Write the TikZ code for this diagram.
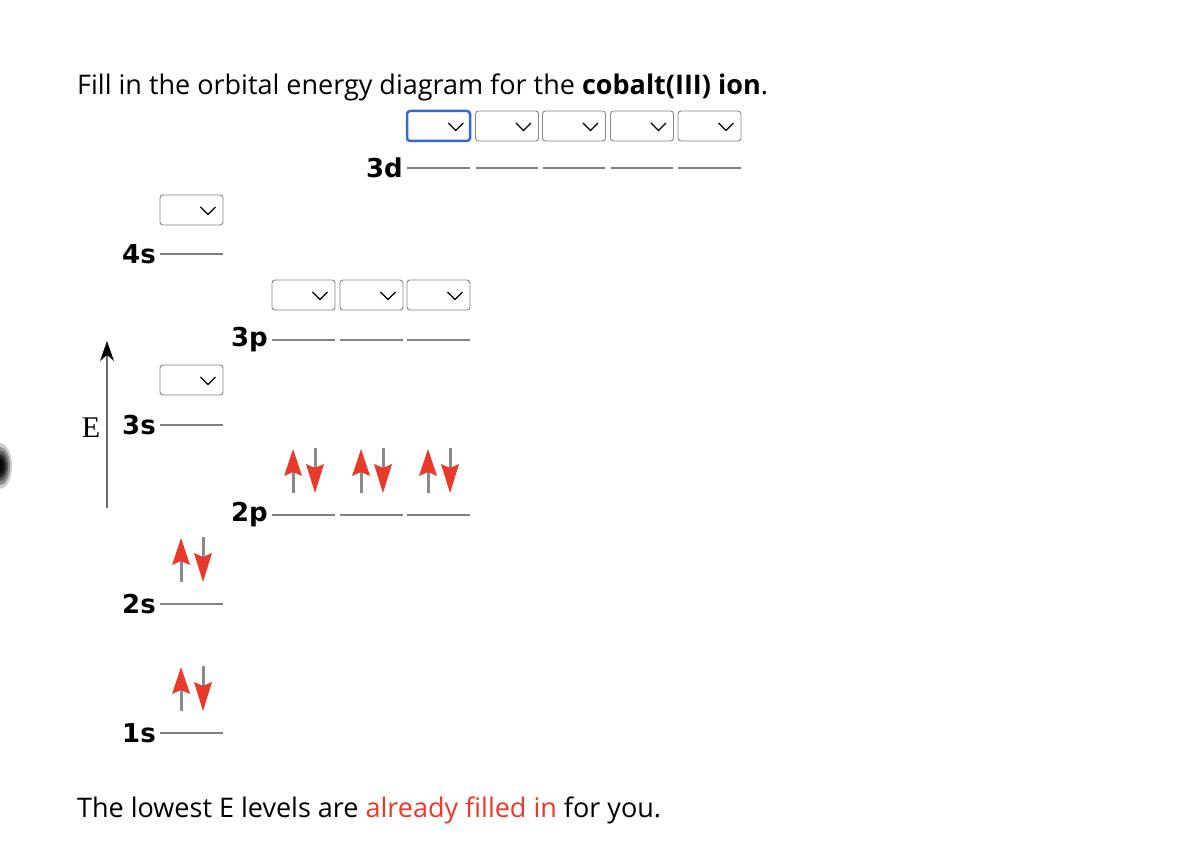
\documentclass[tikz,border=0pt]{standalone}
\usepackage{fontspec}
\setmainfont{Open Sans}
\newfontfamily\lab{DejaVu Sans}
\newfontfamily\tms{Liberation Serif}
\definecolor{lvl}{HTML}{808080}
\definecolor{ddgray}{HTML}{858585}
\definecolor{ddblue}{HTML}{2F6BD0}
\definecolor{spinred}{HTML}{E8392B}
\definecolor{shaft}{HTML}{8A8A8A}
\definecolor{axis}{HTML}{6A6A6A}
\begin{document}
\begin{tikzpicture}[x=1pt,y=-1pt,
  dd/.style={draw=ddgray,line width=0.9pt,rounded corners=3pt,minimum width=63pt,minimum height=30pt,inner sep=0pt,fill=white},
  ddsel/.style={dd,draw=ddblue,line width=2.5pt},
  lvl/.style={draw=lvl,line width=2pt},
  lbl/.style={font=\lab\bfseries\fontsize{26}{30}\selectfont,inner sep=0pt,anchor=east},
  chev/.style={draw=black,line width=1.3pt},
  txt/.style={font=\fontsize{27}{32}\selectfont,inner sep=0pt,anchor=base west}]
\useasboundingbox (0,0) rectangle (1202,866);
\fill[white] (0,0) rectangle (1202,866);
% edge blob (soft, cut by the left edge)
\foreach \r/\o in {12/0.2,10/0.3,8/0.4,6/0.55,4/0.7}{
  \fill[black,opacity=\o] (0,466) ellipse[x radius=\r,y radius=1.9*\r];
}
% title
\node[txt] (title) at (77,95) {Fill in the orbital energy diagram for the \textbf{cobalt(III) ion}.};
% bottom text
\node[txt] (foot) at (77,817) {The lowest E levels are \textcolor{spinred}{already filled in} for you.};
% dropdowns
\node[ddsel] (d1) at (438.5,126) {};
\node[dd] (d2) at (507,126) {};
\node[dd] (d3) at (574,126) {};
\node[dd] (d4) at (642,126) {};
\node[dd] (d5) at (709.5,126) {};
\node[dd] (s4) at (191.5,210) {};
\node[dd] (p1) at (303.5,295) {};
\node[dd] (p2) at (371.5,295) {};
\node[dd] (p3) at (438.5,295) {};
\node[dd] (s3) at (191.5,380) {};
\foreach \n in {d1,d2,d3,d4,d5,s4,p1,p2,p3,s3}{
  \draw[chev] ([xshift=-23pt,yshift=3pt]\n.east) -- ([xshift=-15.5pt,yshift=-4.5pt]\n.east) -- ([xshift=-8pt,yshift=3pt]\n.east);
}
% level lines
\foreach \a/\b in {407/470,476/538,543/605,611/673,678/741}{\draw[lvl] (\a,168) -- (\b,168);}
\draw[lvl] (160,254) -- (223,254);
\foreach \a/\b in {272/335,340/403,407/470}{\draw[lvl] (\a,340) -- (\b,340);\draw[lvl] (\a,515) -- (\b,515);}
\draw[lvl] (160,425) -- (223,425);
\draw[lvl] (160,604) -- (223,604);
\draw[lvl] (160,733) -- (223,733);
% labels
\node[lbl] (l3d) at (403,168) {3d};
\node[lbl] (l4s) at (156,254) {4s};
\node[lbl] (l3p) at (268,340) {3p};
\node[lbl] (l3s) at (156,425) {3s};
\node[lbl] (l2p) at (268,515) {2p};
\node[lbl] (l2s) at (156,604) {2s};
\node[lbl] (l1s) at (156,733) {1s};
% energy axis
\coordinate (ebot) at (107,508);
\coordinate (etop) at (107,341);
\draw[axis,line width=2.2pt] (ebot) -- ([yshift=-12pt]etop);
\fill[black] (etop) -- (114,361) -- (107,355) -- (100,361) -- cycle;
\node[font=\tms\fontsize{30}{30}\selectfont,inner sep=0pt] (E) at (91,428) {E};
% spin pairs
\newcommand{\spinpair}[2]{%
  % #1 = left x of level line, #2 = level y
  \draw[shaft,line width=3pt] (#1+21,#2-22) -- (#1+21,#2-50);
  \fill[spinred] (#1+21,#2-66) -- (#1+30,#2-39) -- (#1+21,#2-43) -- (#1+12,#2-39) -- cycle;
  \draw[shaft,line width=3pt] (#1+43,#2-67) -- (#1+43,#2-40);
  \fill[spinred] (#1+43,#2-22) -- (#1+52,#2-51) -- (#1+43,#2-47) -- (#1+34,#2-51) -- cycle;
}
\spinpair{160}{604}
\spinpair{160}{733}
\spinpair{272}{515}
\spinpair{340}{515}
\spinpair{407}{515}
\end{tikzpicture}
\end{document}
